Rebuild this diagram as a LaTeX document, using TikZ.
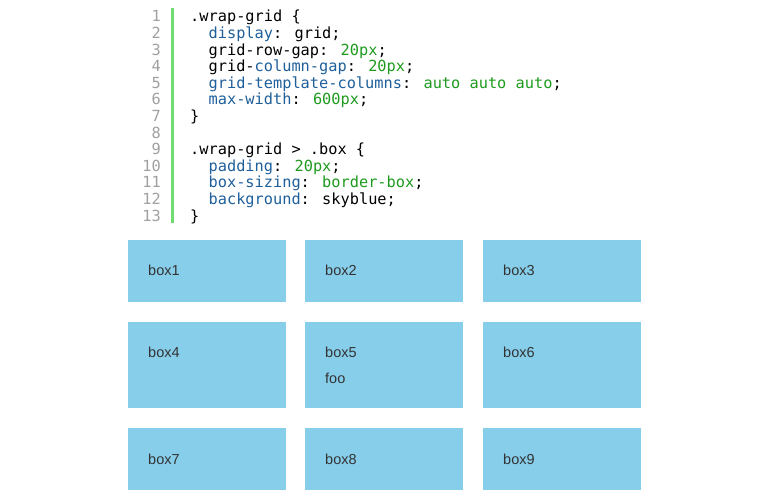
\documentclass[tikz,border=0pt]{standalone}
\usepackage{fontspec}
\setmainfont{Liberation Sans}
\newfontfamily\codefont{DejaVu Sans Mono}
\usetikzlibrary{positioning}
\definecolor{skyblue}{HTML}{87CEEB}
\definecolor{kwblue}{HTML}{1F5F9A}
\definecolor{valgreen}{HTML}{1E9A1E}
\definecolor{numgray}{HTML}{A0A0A0}
\definecolor{bargreen}{HTML}{6EDC6E}
\newcommand{\kw}[1]{\textcolor{kwblue}{#1}}
\newcommand{\vl}[1]{\textcolor{valgreen}{#1}}
\begin{document}
\begin{tikzpicture}[x=1pt,y=-1pt,
    code/.style={anchor=base west, inner sep=0pt, font=\codefont\fontsize{15.3}{16}\selectfont},
    lnum/.style={anchor=base east, inner sep=0pt, text=numgray, font=\codefont\fontsize{15.3}{16}\selectfont},
    box/.style={fill=skyblue, draw=none},
    boxlabel/.style={anchor=base west, inner sep=0pt, text=black!80, font=\fontsize{14.5}{16}\selectfont}
]
\useasboundingbox (0,0) rectangle (768,502);

% code listing
\fill[bargreen] (170.5,8) rectangle (174,223);
\foreach \n in {1,...,13}
  \node[lnum] (num\n) at (161,{22+16.6*(\n-1)}) {\n};
\node[code] (line1) at (190,22) {.wrap-grid \{};
\node[code] (line2) at (190,38.6) {\ \ \kw{display}: grid;};
\node[code] (line3) at (190,55.2) {\ \ grid-row-gap: \vl{20px};};
\node[code] (line4) at (190,71.8) {\ \ grid-\kw{column-gap}: \vl{20px};};
\node[code] (line5) at (190,88.4) {\ \ \kw{grid-template-columns}: \vl{auto auto auto};};
\node[code] (line6) at (190,105) {\ \ \kw{max-width}: \vl{600px};};
\node[code] (line7) at (190,121.6) {\}};
\node[code] (line9) at (190,154.8) {.wrap-grid > .box \{};
\node[code] (line10) at (190,171.4) {\ \ \kw{padding}: \vl{20px};};
\node[code] (line11) at (190,188) {\ \ \kw{box-sizing}: \vl{border-box};};
\node[code] (line12) at (190,204.6) {\ \ \kw{background}: skyblue;};
\node[code] (line13) at (190,221.2) {\}};

% grid boxes
\foreach \c/\x in {0/128,1/305,2/483}
  \foreach \r/\y/\h in {0/240/62,1/322/86,2/428/62} {
    \pgfmathtruncatemacro{\k}{3*\r+\c+1}
    \fill[box] (\x,\y) rectangle ++(158,\h);
    \node[boxlabel] (box\k) at (\x+20,\y+36) {box\k};
  }
\node[boxlabel] (foo) at (325,383) {foo};
\end{tikzpicture}
\end{document}
